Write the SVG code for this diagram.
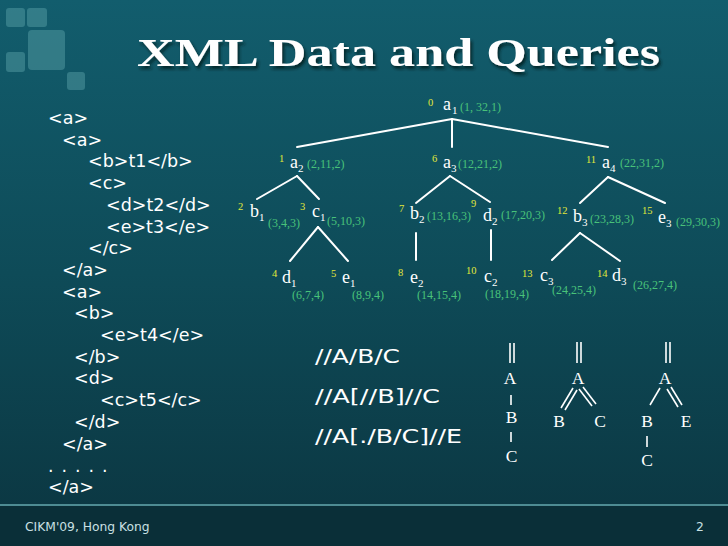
<svg xmlns="http://www.w3.org/2000/svg" width="728" height="546" viewBox="0 0 728 546">
<defs>
<linearGradient id="bg" x1="0" y1="0" x2="0" y2="1">
<stop offset="0" stop-color="#125d6d"/>
<stop offset="0.5" stop-color="#0e4b58"/>
<stop offset="1" stop-color="#0b3540"/>
</linearGradient>
<filter id="sh" x="-5%" y="-20%" width="110%" height="150%">
<feDropShadow dx="2" dy="3" stdDeviation="1.5" flood-color="#031c22" flood-opacity="0.85"/>
</filter>
</defs>
<style>
.xml{font-family:"DejaVu Sans",Verdana,sans-serif;font-size:17.5px;fill:#ffffff}
.q{font-family:"DejaVu Sans",Verdana,sans-serif;font-size:19px;fill:#ffffff}
.lb{font-family:"Liberation Serif","Times New Roman",serif;font-size:18px;fill:#ffffff}
.sb{font-family:"Liberation Serif","Times New Roman",serif;font-size:11px;fill:#ffffff}
.num{font-family:"Liberation Serif","Times New Roman",serif;font-size:10.5px;fill:#e2e83a}
.co{font-family:"Liberation Serif","Times New Roman",serif;font-size:12px;fill:#49c27a}
.pt{font-family:"Liberation Serif","Times New Roman",serif;font-size:17.5px;fill:#ffffff;text-anchor:middle}
.ln{stroke:#ffffff;stroke-width:2;fill:none;stroke-linecap:round}
.pl{stroke:#ffffff;stroke-width:1.6;fill:none}
.sq{fill:#5ea3aa;opacity:0.45}
.ft{font-family:"DejaVu Sans",Verdana,sans-serif;font-size:12.3px;fill:#c9e0e3}
</style>
<rect x="0" y="0" width="728" height="546" fill="url(#bg)"/>
<rect x="0" y="505" width="728" height="41" fill="#0a2f38"/>
<g id="squares">
<rect class="sq" x="6" y="8" width="19" height="19" rx="3"/>
<rect class="sq" x="27" y="8" width="20" height="19" rx="3"/>
<rect class="sq" x="28" y="30" width="37" height="40" rx="4"/>
<rect class="sq" x="6" y="52" width="19" height="20" rx="3"/>
<rect class="sq" x="67" y="72" width="18" height="18" rx="3"/>
</g>
<text x="137" y="66" font-family="'Liberation Serif','Times New Roman',serif" font-weight="bold" font-size="40" fill="#ffffff" textLength="523" lengthAdjust="spacingAndGlyphs" filter="url(#sh)">XML Data and Queries</text>
<g id="xml-listing" class="xml">
<text x="48" y="124">&lt;a&gt;</text>
<text x="62" y="145.7">&lt;a&gt;</text>
<text x="88" y="167.4">&lt;b&gt;t1&lt;/b&gt;</text>
<text x="88" y="189">&lt;c&gt;</text>
<text x="106" y="210.8">&lt;d&gt;t2&lt;/d&gt;</text>
<text x="106" y="232.5">&lt;e&gt;t3&lt;/e&gt;</text>
<text x="88" y="254">&lt;/c&gt;</text>
<text x="62" y="276">&lt;/a&gt;</text>
<text x="62" y="297.6">&lt;a&gt;</text>
<text x="74" y="319.3">&lt;b&gt;</text>
<text x="100" y="341">&lt;e&gt;t4&lt;/e&gt;</text>
<text x="74" y="362.7">&lt;/b&gt;</text>
<text x="74" y="384.4">&lt;d&gt;</text>
<text x="100" y="406">&lt;c&gt;t5&lt;/c&gt;</text>
<text x="74" y="427.8">&lt;/d&gt;</text>
<text x="62" y="449.5">&lt;/a&gt;</text>
<text x="48" y="471.5" letter-spacing="1.2">. . . . .</text>
<text x="48" y="493">&lt;/a&gt;</text>
</g>
<g id="connectors">
<line class="ln" x1="452" y1="119" x2="297" y2="147"/>
<line class="ln" x1="452" y1="119" x2="452" y2="147"/>
<line class="ln" x1="452" y1="119" x2="608" y2="147"/>
<line class="ln" x1="297" y1="176" x2="257" y2="199"/>
<line class="ln" x1="297" y1="176" x2="319" y2="199"/>
<line class="ln" x1="318" y1="227" x2="290" y2="261"/>
<line class="ln" x1="318" y1="227" x2="348" y2="261"/>
<line class="ln" x1="450" y1="176" x2="416" y2="203"/>
<line class="ln" x1="450" y1="176" x2="490" y2="202"/>
<line class="ln" x1="416" y1="233" x2="416" y2="260"/>
<line class="ln" x1="491" y1="230" x2="491" y2="260"/>
<line class="ln" x1="608" y1="177" x2="580" y2="203"/>
<line class="ln" x1="608" y1="177" x2="665" y2="203"/>
<line class="ln" x1="580" y1="233" x2="552" y2="260"/>
<line class="ln" x1="580" y1="233" x2="620" y2="261"/>
<line class="pl" x1="510" y1="343" x2="510" y2="363"/>
<line class="pl" x1="514" y1="343" x2="514" y2="363"/>
<line class="pl" x1="511" y1="395" x2="511" y2="405"/>
<line class="pl" x1="511" y1="432" x2="511" y2="442"/>
<line class="pl" x1="577" y1="342" x2="577" y2="363"/>
<line class="pl" x1="581" y1="342" x2="581" y2="363"/>
<line class="pl" x1="573" y1="388" x2="561" y2="408"/>
<line class="pl" x1="577" y1="390" x2="565" y2="410"/>
<line class="pl" x1="579" y1="389" x2="592" y2="406"/>
<line class="pl" x1="583" y1="387" x2="596" y2="404"/>
<line class="pl" x1="666" y1="342" x2="666" y2="363"/>
<line class="pl" x1="670" y1="342" x2="670" y2="363"/>
<line class="pl" x1="660" y1="388" x2="650" y2="405"/>
<line class="pl" x1="667" y1="389" x2="678" y2="407"/>
<line class="pl" x1="671" y1="387" x2="682" y2="405"/>
<line class="pl" x1="647" y1="436" x2="647" y2="447"/>
</g>
<g id="n0"><text class="num" x="428" y="106">0</text><text class="lb" x="443" y="110">a</text><text class="sb" x="452" y="114">1</text><text class="co" x="460" y="111">(1, 32,1)</text></g>
<g id="n1"><text class="num" x="279" y="162">1</text><text class="lb" x="290" y="168">a</text><text class="sb" x="298" y="172">2</text><text class="co" x="307" y="168">(2,11,2)</text></g>
<g id="n2"><text class="num" x="238" y="210">2</text><text class="lb" x="250" y="217">b</text><text class="sb" x="259" y="221">1</text><text class="co" x="268" y="227">(3,4,3)</text></g>
<g id="n3"><text class="num" x="300" y="210">3</text><text class="lb" x="312" y="217">c</text><text class="sb" x="320" y="221">1</text><text class="co" x="327" y="225">(5,10,3)</text></g>
<g id="n4"><text class="num" x="272" y="277">4</text><text class="lb" x="282" y="283">d</text><text class="sb" x="291" y="287">1</text><text class="co" x="292" y="299">(6,7,4)</text></g>
<g id="n5"><text class="num" x="331" y="277">5</text><text class="lb" x="342" y="283">e</text><text class="sb" x="350" y="287">1</text><text class="co" x="352" y="299">(8,9,4)</text></g>
<g id="n6"><text class="num" x="432" y="162">6</text><text class="lb" x="443" y="168">a</text><text class="sb" x="451" y="172">3</text><text class="co" x="458" y="168">(12,21,2)</text></g>
<g id="n7"><text class="num" x="399" y="212">7</text><text class="lb" x="410" y="219">b</text><text class="sb" x="419" y="223">2</text><text class="co" x="427" y="220">(13,16,3)</text></g>
<g id="n8"><text class="num" x="398" y="276">8</text><text class="lb" x="410" y="283">e</text><text class="sb" x="418" y="287">2</text><text class="co" x="417" y="299">(14,15,4)</text></g>
<g id="n9"><text class="num" x="471" y="207">9</text><text class="lb" x="483" y="221">d</text><text class="sb" x="492" y="225">2</text><text class="co" x="501" y="219">(17,20,3)</text></g>
<g id="n10"><text class="num" x="466" y="274">10</text><text class="lb" x="484" y="282">c</text><text class="sb" x="492" y="286">2</text><text class="co" x="485" y="298">(18,19,4)</text></g>
<g id="n11"><text class="num" x="586" y="163">11</text><text class="lb" x="602" y="168">a</text><text class="sb" x="610" y="172">4</text><text class="co" x="620" y="167">(22,31,2)</text></g>
<g id="n12"><text class="num" x="557" y="214">12</text><text class="lb" x="573" y="222">b</text><text class="sb" x="582" y="226">3</text><text class="co" x="590" y="223">(23,28,3)</text></g>
<g id="n13"><text class="num" x="522" y="277">13</text><text class="lb" x="540" y="281">c</text><text class="sb" x="548" y="285">3</text><text class="co" x="552" y="294">(24,25,4)</text></g>
<g id="n14"><text class="num" x="597" y="277">14</text><text class="lb" x="612" y="281">d</text><text class="sb" x="621" y="285">3</text><text class="co" x="633" y="289">(26,27,4)</text></g>
<g id="n15"><text class="num" x="642" y="214">15</text><text class="lb" x="658" y="223">e</text><text class="sb" x="666" y="227">3</text><text class="co" x="676" y="226">(29,30,3)</text></g>
<g id="queries" class="q">
<text x="315" y="363" textLength="85" lengthAdjust="spacingAndGlyphs">//A/B/C</text>
<text x="315" y="403" textLength="125" lengthAdjust="spacingAndGlyphs">//A[//B]//C</text>
<text x="315" y="443" textLength="147" lengthAdjust="spacingAndGlyphs">//A[./B/C]//E</text>
</g>
<g id="p1-A"><text class="pt" x="510" y="384">A</text></g>
<g id="p1-B"><text class="pt" x="511.5" y="423">B</text></g>
<g id="p1-C"><text class="pt" x="511.5" y="462">C</text></g>
<g id="p2-A"><text class="pt" x="578" y="384">A</text></g>
<g id="p2-B"><text class="pt" x="559" y="427">B</text></g>
<g id="p2-C"><text class="pt" x="600" y="427">C</text></g>
<g id="p3-A"><text class="pt" x="665" y="384">A</text></g>
<g id="p3-B"><text class="pt" x="647" y="427">B</text></g>
<g id="p3-E"><text class="pt" x="686" y="427">E</text></g>
<g id="p3-C"><text class="pt" x="647" y="466">C</text></g>
<g id="footer">
<line x1="0" y1="505" x2="728" y2="505" stroke="#4e8c93" stroke-width="2"/>
<text class="ft" x="25" y="531">CIKM'09, Hong Kong</text>
<text class="ft" x="696" y="531">2</text>
</g>
</svg>
